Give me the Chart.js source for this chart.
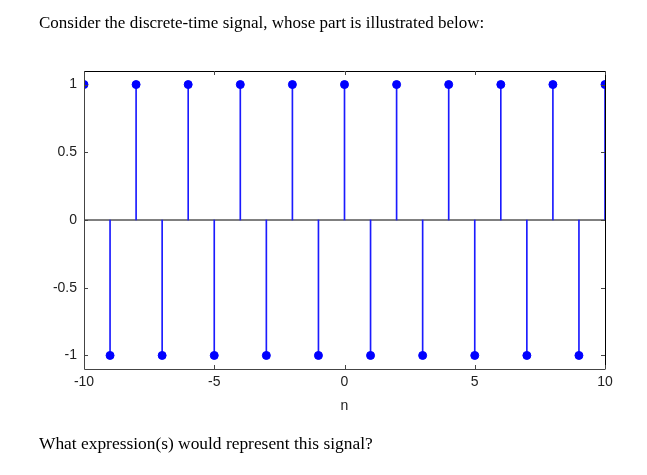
<!DOCTYPE html>
<html>
<head>
<meta charset="utf-8">
<script src="https://cdn.jsdelivr.net/npm/chart.js@4"></script>
<style>
  html, body { margin: 0; padding: 0; background: #fff; }
  #wrap { position: relative; width: 647px; height: 475px; overflow: hidden; }
  canvas { position: absolute; left: 0; top: 0; }
  .txt { position: absolute; left: 39px; margin: 0; font-family: "Liberation Serif", "Times New Roman", serif; font-size: 17px; color: #000; white-space: nowrap; line-height: 1; }
  #q1 { top: 14px; }
  #q2 { top: 435px; font-size: 17.4px; }
</style>
</head>
<body>
<div id="wrap">
  <canvas id="stemChart" width="647" height="475"></canvas>
  <p class="txt" id="q1">Consider the discrete-time signal, whose part is illustrated below:</p>
  <p class="txt" id="q2">What expression(s) would represent this signal?</p>
</div>
<script>
// signal samples x[n], n = -10..10
const nValues = [-10, -9, -8, -7, -6, -5, -4, -3, -2, -1, 0, 1, 2, 3, 4, 5, 6, 7, 8, 9, 10];
const xValues = [1, -1, 1, -1, 1, -1, 1, -1, 1, -1, 1, -1, 1, -1, 1, -1, 1, -1, 1, -1, 1];
const baseLine = [{x: -10, y: 0}, {x: 10, y: 0}];
const xTicks = [-10, -5, 0, 5, 10];
const yTicks = [-1, -0.5, 0, 0.5, 1];

const points = nValues.map((n, i) => ({x: n, y: xValues[i]}));
const tickFont = {family: "'Liberation Sans', Arial, sans-serif", size: 14};

// MATLAB-style box with inward tick marks
const boxPlugin = {
  id: 'box',
  afterDatasetsDraw(chart) {
    const {ctx, chartArea: a, scales} = chart;
    ctx.save();
    ctx.lineWidth = 1;
    ctx.strokeStyle = '#000';
    ctx.beginPath();
    ctx.moveTo(a.left, a.top + 0.5);
    ctx.lineTo(a.right + 0.5, a.top + 0.5);
    ctx.lineTo(a.right + 0.5, a.bottom);
    ctx.stroke();
    ctx.strokeStyle = '#444';
    ctx.beginPath();
    ctx.moveTo(a.left + 0.5, a.top);
    ctx.lineTo(a.left + 0.5, a.bottom + 0.5);
    ctx.lineTo(a.right + 0.5, a.bottom + 0.5);
    ctx.stroke();
    const len = 4;
    ctx.beginPath();
    xTicks.forEach(v => {
      const px = Math.round(scales.x.getPixelForValue(v)) + 0.5;
      ctx.moveTo(px, a.bottom); ctx.lineTo(px, a.bottom - len);
      ctx.moveTo(px, a.top); ctx.lineTo(px, a.top + len);
    });
    yTicks.forEach(v => {
      const py = Math.round(scales.y.getPixelForValue(v)) + 0.5;
      ctx.moveTo(a.left, py); ctx.lineTo(a.left + len, py);
      ctx.moveTo(a.right, py); ctx.lineTo(a.right - len, py);
    });
    ctx.stroke();
    ctx.restore();
  }
};

new Chart(document.getElementById('stemChart').getContext('2d'), {
  type: 'bar',
  data: {
    datasets: [
      {
        type: 'line',
        data: baseLine,
        borderColor: '#000',
        borderWidth: 1,
        pointRadius: 0,
        order: 3
      },
      {
        type: 'bar',
        data: points,
        backgroundColor: '#1a1aff',
        barThickness: 1,
        order: 2
      },
      {
        type: 'scatter',
        data: points,
        backgroundColor: '#0000ff',
        borderColor: '#0000ff',
        pointRadius: 4,
        pointHoverRadius: 4,
        order: 1
      }
    ]
  },
  options: {
    responsive: false,
    animation: false,
    events: [],
    layout: {padding: {left: 44, right: 42, top: 71, bottom: 56}},
    plugins: {legend: {display: false}, tooltip: {enabled: false}},
    scales: {
      x: {
        type: 'linear',
        min: -10,
        max: 10,
        offset: false,
        grid: {display: false, drawTicks: false},
        border: {display: false},
        afterBuildTicks: s => { s.ticks = xTicks.map(v => ({value: v})); },
        afterFit: s => { s.height = 50; },
        ticks: {font: tickFont, color: '#222', padding: 5, maxRotation: 0, callback: v => String(v)},
        title: {display: true, text: 'n', font: {family: "'Liberation Sans', Arial, sans-serif", size: 14}, color: '#222', padding: {top: 4}}
      },
      y: {
        min: -1.1,
        max: 1.1,
        grid: {display: false, drawTicks: false},
        border: {display: false},
        afterBuildTicks: s => { s.ticks = yTicks.map(v => ({value: v})); },
        afterFit: s => { s.width = 40; },
        ticks: {font: tickFont, color: '#222', padding: 7, callback: v => String(v)}
      }
    }
  },
  plugins: [boxPlugin]
});
</script>
</body>
</html>
